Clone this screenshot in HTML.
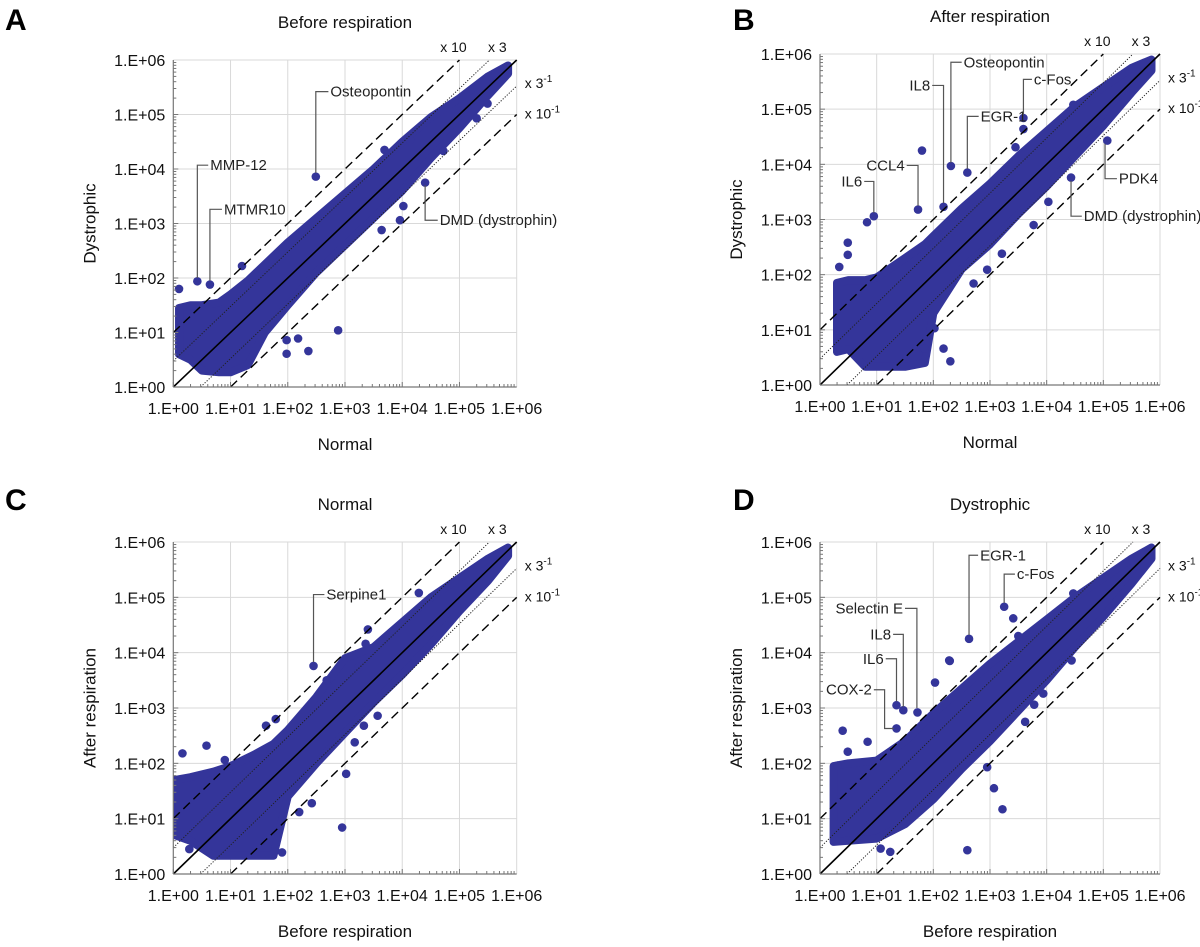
<!DOCTYPE html>
<html><head><meta charset="utf-8"><style>
html,body{margin:0;padding:0;background:#fff;}
svg{display:block;font-family:"Liberation Sans",Arial,sans-serif;}
</style></head><body>
<svg id="fig" width="1200" height="947" viewBox="0 0 1200 947" xmlns="http://www.w3.org/2000/svg"></svg>
<script>
// ---- data (log10 values) ----
const tickLabels = ["1.E+00","1.E+01","1.E+02","1.E+03","1.E+04","1.E+05","1.E+06"];
const panelTitles = ["Before respiration","After respiration","Normal","Dystrophic"];
const xTitles = ["Normal","Normal","Before respiration","Before respiration"];
const yTitles = ["Dystrophic","Dystrophic","After respiration","After respiration"];
const panelLetters = ["A","B","C","D"];

const bandXA = [0.1,0.3,0.5,0.8,1.0,1.3,1.6,2,2.5,3,3.5,4,4.5,5,5.5,5.85];
const bandHiA = [1.45,1.5,1.5,1.55,1.7,1.95,2.25,2.65,3.1,3.55,4.0,4.5,4.95,5.3,5.7,5.9];
const bandLoA = [0.6,0.5,0.3,0.27,0.27,0.4,1.0,1.5,2.1,2.6,3.1,3.6,4.2,4.75,5.35,5.75];
const ptXA = [0.42,0.64,2.49,4.4,0.1,1.2,2.88,1.98,2.18,2.36,1.98,5.3,5.49,4.72,3.96,3.64,4.02,4.14,3.69];
const ptYA = [1.94,1.88,3.86,3.75,1.8,2.22,1.04,0.61,0.89,0.66,0.86,4.93,5.2,4.33,3.06,2.88,3.32,4.53,4.35];

const bandXB = [0.3,0.5,0.8,1.0,1.5,1.85,2,2.5,3,3.5,4,4.5,5,5.5,5.85];
const bandHiB = [1.85,1.9,1.9,1.95,2.3,2.55,2.7,3.2,3.65,4.15,4.6,5.05,5.4,5.75,5.9];
const bandLoB = [0.6,0.65,0.33,0.33,0.33,0.4,1.3,2.1,2.55,3.1,3.6,4.15,4.7,5.3,5.7];
const ptXB = [0.95,0.83,1.73,1.8,2.31,2.18,2.6,3.59,3.59,5.07,4.43,4.47,0.49,0.49,0.34,1.85,2.18,2.3,2.02,4.03,3.77,3.21,2.95,2.71,3.45];
const ptYB = [3.06,2.95,3.18,4.25,3.97,3.23,3.85,4.84,4.64,4.43,3.76,5.08,2.58,2.36,2.14,0.66,0.66,0.43,1.03,3.32,2.9,2.38,2.09,1.84,4.31];

const bandXC = [0.03,0.3,0.7,1.0,1.4,1.75,2,2.5,3,3.5,4,4.5,5,5.5,5.85];
const bandHiC = [1.7,1.75,1.85,1.95,2.15,2.35,2.6,3.2,3.9,4.1,4.55,5.0,5.35,5.7,5.9];
const bandLoC = [0.7,0.6,0.33,0.33,0.33,0.33,1.4,2.0,2.55,3.1,3.6,4.15,4.75,5.3,5.75];
const ptXC = [2.45,3.4,4.29,3.36,0.58,0.16,0.9,3.02,2.95,1.9,0.28,2.42,2.2,3.17,3.33,3.57,1.79,1.62,2.68,3.24];
const ptYC = [3.76,4.42,5.08,4.16,2.32,2.18,2.06,1.81,0.84,0.39,0.45,1.28,1.12,2.38,2.68,2.86,2.8,2.68,3.5,3.74];

const bandXD = [0.24,0.5,1.0,1.5,2,2.5,3,3.5,4,4.5,5,5.5,5.85];
const bandHiD = [1.95,2.0,2.05,2.4,2.9,3.35,3.8,4.2,4.6,5.0,5.35,5.7,5.9];
const bandLoD = [0.58,0.6,0.64,0.9,1.35,1.9,2.4,2.95,3.5,4.1,4.65,5.25,5.7];
const ptXD = [2.63,3.25,1.35,1.47,1.72,1.35,0.4,0.84,0.49,0.31,2.28,2.03,3.07,3.22,2.6,1.24,1.07,4.44,4.47,3.94,3.78,3.62,2.95,2.44,3.41,3.5,2.29];
const ptYD = [4.25,4.83,3.05,2.96,2.92,2.63,2.59,2.39,2.21,1.96,3.86,3.46,1.55,1.17,0.43,0.4,0.46,3.86,5.07,3.26,3.06,2.75,1.93,1.85,4.62,4.3,3.85];

const annA = [
 {t:"MMP-12",p:[[0.42,2.0],[0.42,4.07],[0.61,4.07]],a:"start"},
 {t:"MTMR10",p:[[0.64,1.95],[0.64,3.26],[0.85,3.26]],a:"start"},
 {t:"Osteopontin",p:[[2.49,3.93],[2.49,5.42],[2.71,5.42]],a:"start"},
 {t:"DMD (dystrophin)",p:[[4.4,3.7],[4.4,3.06],[4.62,3.06]],a:"start"}];
const annB = [
 {t:"IL6",p:[[0.95,3.12],[0.95,3.69],[0.78,3.69]],a:"end"},
 {t:"CCL4",p:[[1.73,3.25],[1.73,3.98],[1.53,3.98]],a:"end"},
 {t:"IL8",p:[[2.18,3.3],[2.18,5.43],[1.98,5.43]],a:"end"},
 {t:"Osteopontin",p:[[2.31,4.03],[2.31,5.85],[2.5,5.85]],a:"start"},
 {t:"EGR-1",p:[[2.6,3.92],[2.6,4.87],[2.8,4.87]],a:"start"},
 {t:"c-Fos",p:[[3.59,4.9],[3.59,5.54],[3.74,5.54]],a:"start"},
 {t:"PDK4",p:[[5.03,4.37],[5.03,3.74],[5.24,3.74]],a:"start"},
 {t:"DMD (dystrophin)",p:[[4.43,3.7],[4.43,3.06],[4.62,3.06]],a:"start"}];
const annC = [
 {t:"Serpine1",p:[[2.45,3.83],[2.45,5.05],[2.64,5.05]],a:"start"}];
const annD = [
 {t:"EGR-1",p:[[2.63,4.32],[2.63,5.76],[2.79,5.76]],a:"start"},
 {t:"c-Fos",p:[[3.25,4.9],[3.25,5.42],[3.44,5.42]],a:"start"},
 {t:"Selectin E",p:[[1.71,3.0],[1.71,4.8],[1.5,4.8]],a:"end"},
 {t:"IL8",p:[[1.47,3.02],[1.47,4.33],[1.29,4.33]],a:"end"},
 {t:"IL6",p:[[1.35,3.12],[1.35,3.89],[1.16,3.89]],a:"end"},
 {t:"COX-2",p:[[1.3,2.63],[1.14,2.63],[1.14,3.33],[0.95,3.33]],a:"end"}];

const bandsX=[bandXA,bandXB,bandXC,bandXD], bandsHi=[bandHiA,bandHiB,bandHiC,bandHiD], bandsLo=[bandLoA,bandLoB,bandLoC,bandLoD];
const ptsX=[ptXA,ptXB,ptXC,ptXD], ptsY=[ptYA,ptYB,ptYC,ptYD], anns=[annA,annB,annC,annD];

// ---- layout ----
const layout=[{x0:173.3,x1:516.7,yt:60,yb:387,lx:5,ly:30},{x0:820,x1:1160,yt:54,yb:385,lx:733,ly:30},
 {x0:173.3,x1:516.7,yt:542,yb:874,lx:5,ly:510},{x0:820,x1:1160,yt:542,yb:874,lx:733,ly:510}];
const NS="http://www.w3.org/2000/svg", svg=document.getElementById('fig');
const DOT="#34359a";
function mk(tag,attrs,parent){const e=document.createElementNS(NS,tag);for(const k in attrs)e.setAttribute(k,attrs[k]);(parent||svg).appendChild(e);return e;}

layout.forEach((L,i)=>{
 const g=mk('g',{});
 
 
 const sx=v=>L.x0+(L.x1-L.x0)*v/6, sy=v=>L.yb-(L.yb-L.yt)*v/6;
 const cid='clip'+i;
 const cp=mk('clipPath',{id:cid},g); mk('rect',{x:L.x0,y:L.yt,width:L.x1-L.x0,height:L.yb-L.yt},cp);
 // grid
 for(let d=1;d<=6;d++){
  const gx=mk('line',{x1:sx(d),x2:sx(d),y1:L.yt,y2:L.yb,stroke:"#d9d9d9","stroke-width":1},g);
  
  const gy=mk('line',{x1:L.x0,x2:L.x1,y1:sy(d),y2:sy(d),stroke:"#d9d9d9","stroke-width":1},g);
  
 }
 // band
 const bx=bandsX[i],bh=bandsHi[i],bl=bandsLo[i];
 let dstr="M"+bx.map((x,k)=>sx(x)+","+sy(bh[k])).join(" L");
 for(let k=bx.length-1;k>=0;k--)dstr+=" L"+sx(bx[k])+","+sy(bl[k]);
 dstr+="Z";
 const band=mk('path',{d:dstr,fill:DOT,stroke:DOT,"stroke-width":8,"stroke-linejoin":"round","clip-path":"url(#"+cid+")"},g);
 
 ptsX[i].forEach((x,k)=>{
  const c=mk('circle',{cx:sx(x),cy:sy(ptsY[i][k]),r:4.3,fill:DOT},g);
  
 });
 // reference lines
 const refs=[[0,"#000",1.6,null],[Math.log10(3),"#222",1,"1.2 1.6"],[-Math.log10(3),"#222",1,"1.2 1.6"],[1,"#000",1.4,"9 5"],[-1,"#000",1.4,"9 5"]];
 const refNames=['identity-line','x3-line','x3-inverse-line','x10-line','x10-inverse-line'];
 refs.forEach((r,k)=>{
  const o=r[0]; const xa=Math.max(0,-o), xb=Math.min(6,6-o);
  const a={x1:sx(xa),y1:sy(xa+o),x2:sx(xb),y2:sy(xb+o),stroke:r[1],"stroke-width":r[2]};
  if(r[3])a["stroke-dasharray"]=r[3];
  const l=mk('line',a,g);
 });
 // ref labels
 const t10=mk('text',{x:sx(5)-6,y:sy(6)-8,"font-size":14,"text-anchor":"middle",fill:"#111"},g);t10.textContent="x 10";
 
 const t3=mk('text',{x:sx(6-Math.log10(3))+8,y:sy(6)-8,"font-size":14,"text-anchor":"middle",fill:"#111"},g);t3.textContent="x 3";
 
 const t3i=mk('text',{x:L.x1+8,y:sy(6-Math.log10(3))+2,"font-size":14,fill:"#111"},g);t3i.innerHTML='x 3<tspan dy="-6" font-size="10">-1</tspan>';
 
 const t10i=mk('text',{x:L.x1+8,y:sy(5)+4,"font-size":14,fill:"#111"},g);t10i.innerHTML='x 10<tspan dy="-6" font-size="10">-1</tspan>';
 
 // annotations
 anns[i].forEach(an=>{
  const pl=mk('polyline',{points:an.p.map(q=>sx(q[0])+","+sy(q[1])).join(" "),fill:"none",stroke:"#555","stroke-width":1.2},g);
  
  const e=an.p[an.p.length-1];
  const tx=mk('text',{x:sx(e[0])+(an.a==="start"?2:-2),y:sy(e[1])+5,"font-size":15,"text-anchor":an.a,fill:"#222"},g);
  tx.textContent=an.t;
 });
 // axes
 const ax=mk('line',{x1:L.x0,x2:L.x1,y1:L.yb,y2:L.yb,stroke:"#777","stroke-width":1.2},g);
 
 const ay=mk('line',{x1:L.x0,x2:L.x0,y1:L.yt,y2:L.yb,stroke:"#777","stroke-width":1.2},g);
 
 for(let d=0;d<6;d++)for(let m=1;m<10;m++){
  const v=d+Math.log10(m), len=m===1?5:3;
  mk('line',{x1:sx(v),x2:sx(v),y1:L.yb,y2:L.yb-len,stroke:"#777","stroke-width":1},g);
  mk('line',{x1:L.x0,x2:L.x0+len,y1:sy(v),y2:sy(v),stroke:"#777","stroke-width":1},g);
 }
 tickLabels.forEach((lab,d)=>{
  const a=mk('text',{x:sx(d),y:L.yb+27,"font-size":16,"text-anchor":"middle",fill:"#111"},g);a.textContent=lab;
  
  const b=mk('text',{x:L.x0-8,y:sy(d)+6,"font-size":16,"text-anchor":"end",fill:"#111"},g);b.textContent=lab;
  
 });
 const cx=(L.x0+L.x1)/2, cy=(L.yt+L.yb)/2;
 const tt=mk('text',{x:cx,y:L.yt-32,"font-size":17,"text-anchor":"middle",fill:"#111"},g);tt.textContent=panelTitles[i];
 
 const xt=mk('text',{x:cx,y:L.yb+63,"font-size":17,"text-anchor":"middle",fill:"#111"},g);xt.textContent=xTitles[i];
 
 const yx=L.x0-78;
 const yt=mk('text',{x:yx,y:cy,"font-size":17,"text-anchor":"middle",fill:"#111",transform:"rotate(-90 "+yx+" "+cy+")"},g);yt.textContent=yTitles[i];
 
 const pl=mk('text',{x:L.lx,y:L.ly,"font-size":30,"font-weight":"bold",fill:"#000"},g);pl.textContent=panelLetters[i];
 
});
</script>
</body></html>
